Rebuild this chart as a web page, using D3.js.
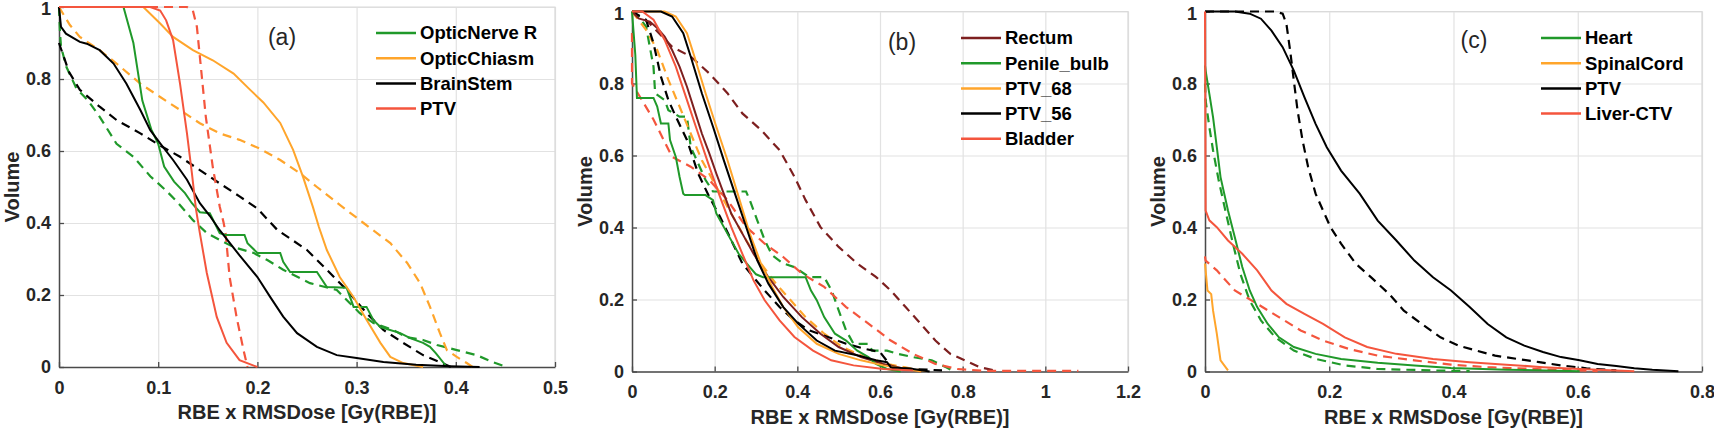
<!DOCTYPE html>
<html>
<head>
<meta charset="utf-8">
<script src="https://cdn.jsdelivr.net/npm/d3@7"></script>
<style>
  body { margin: 0; background: #fff; }
  svg { display: block; font-family: "Liberation Sans", Arial, sans-serif; }
</style>
</head>
<body>
<svg id="fig" width="1714" height="431"></svg>
<script>
// ---- data : [dose, volume] pairs ----
// (a) head case
const a_nerve = [[0,1],[0.065,1],[0.075,0.9],[0.084,0.74],[0.093,0.66],[0.1,0.62],[0.106,0.557],[0.116,0.515],[0.127,0.483],[0.134,0.455],[0.142,0.43],[0.152,0.427],[0.162,0.372],[0.168,0.367],[0.187,0.367],[0.19,0.344],[0.2,0.317],[0.223,0.317],[0.226,0.292],[0.233,0.264],[0.26,0.264],[0.27,0.222],[0.29,0.22],[0.297,0.167],[0.31,0.167],[0.317,0.13],[0.324,0.111],[0.344,0.094],[0.354,0.08],[0.367,0.067],[0.374,0.056],[0.38,0.038],[0.391,0]];
const a_nerve_rms = [[0,1],[0.001,0.93],[0.002,0.89],[0.0074,0.834],[0.0175,0.774],[0.029,0.741],[0.041,0.695],[0.058,0.62],[0.075,0.584],[0.092,0.53],[0.108,0.49],[0.12,0.456],[0.135,0.408],[0.149,0.372],[0.162,0.353],[0.176,0.333],[0.196,0.317],[0.21,0.297],[0.226,0.27],[0.253,0.233],[0.28,0.214],[0.293,0.178],[0.303,0.15],[0.317,0.122],[0.337,0.103],[0.35,0.083],[0.367,0.075],[0.381,0.061],[0.401,0.047],[0.421,0.033],[0.437,0.014],[0.448,0.003]];
const a_chiasm = [[0,1],[0.085,1],[0.102,0.954],[0.115,0.917],[0.135,0.88],[0.155,0.852],[0.176,0.815],[0.193,0.769],[0.206,0.735],[0.223,0.678],[0.236,0.603],[0.246,0.528],[0.256,0.444],[0.262,0.389],[0.27,0.325],[0.283,0.25],[0.297,0.194],[0.31,0.131],[0.324,0.067],[0.334,0.028],[0.347,0.011],[0.367,0]];
const a_chiasm_rms = [[0,1],[0.011,0.95],[0.021,0.917],[0.041,0.88],[0.058,0.843],[0.082,0.787],[0.102,0.75],[0.122,0.714],[0.142,0.677],[0.162,0.649],[0.182,0.631],[0.202,0.607],[0.223,0.575],[0.243,0.538],[0.26,0.5],[0.286,0.444],[0.307,0.4],[0.334,0.344],[0.351,0.289],[0.364,0.233],[0.374,0.167],[0.384,0.094],[0.391,0.047],[0.401,0.028],[0.411,0.011],[0.417,0]];
const a_brain = [[0,1],[0.002,0.945],[0.007,0.926],[0.021,0.903],[0.028,0.898],[0.041,0.88],[0.055,0.843],[0.068,0.787],[0.082,0.714],[0.092,0.658],[0.102,0.621],[0.115,0.575],[0.129,0.52],[0.142,0.455],[0.152,0.42],[0.162,0.38],[0.182,0.31],[0.2,0.25],[0.213,0.194],[0.226,0.14],[0.24,0.094],[0.26,0.056],[0.28,0.033],[0.3,0.025],[0.327,0.014],[0.36,0.006],[0.394,0.002],[0.424,0]];
const a_brain_rms = [[0,0.9],[0.01,0.82],[0.021,0.77],[0.041,0.723],[0.058,0.686],[0.082,0.649],[0.102,0.615],[0.122,0.584],[0.142,0.547],[0.162,0.51],[0.182,0.474],[0.2,0.44],[0.22,0.381],[0.25,0.325],[0.27,0.27],[0.29,0.214],[0.31,0.15],[0.327,0.103],[0.347,0.067],[0.367,0.033],[0.387,0.01],[0.395,0]];
const a_ptv = [[0,1],[0.092,1],[0.102,0.99],[0.108,0.963],[0.115,0.908],[0.122,0.787],[0.129,0.649],[0.134,0.538],[0.138,0.44],[0.142,0.372],[0.149,0.261],[0.159,0.139],[0.169,0.067],[0.182,0.019],[0.2,0]];
const a_ptv_rms = [[0,1],[0.129,1],[0.135,0.99],[0.139,0.945],[0.143,0.834],[0.148,0.695],[0.155,0.556],[0.162,0.446],[0.166,0.4],[0.168,0.37],[0.172,0.25],[0.179,0.139],[0.186,0.047],[0.19,0]];

// (b) prostate case
const b_rectum = [[0,1],[0.016,0.981],[0.043,0.972],[0.061,0.954],[0.079,0.93],[0.097,0.893],[0.115,0.847],[0.133,0.791],[0.151,0.726],[0.169,0.661],[0.187,0.606],[0.204,0.55],[0.222,0.494],[0.24,0.439],[0.267,0.383],[0.294,0.327],[0.33,0.262],[0.366,0.207],[0.411,0.151],[0.456,0.105],[0.5,0.068],[0.554,0.04],[0.608,0.021],[0.662,0.007],[0.7,0]];
const b_rectum_rms = [[0,1],[0.04,0.97],[0.097,0.902],[0.142,0.875],[0.187,0.828],[0.231,0.773],[0.267,0.717],[0.312,0.671],[0.357,0.615],[0.393,0.541],[0.42,0.476],[0.456,0.401],[0.5,0.346],[0.545,0.3],[0.59,0.263],[0.626,0.225],[0.662,0.179],[0.698,0.133],[0.734,0.086],[0.77,0.049],[0.805,0.031],[0.841,0.012],[0.877,0.003]];
const b_penile = [[0,1],[0.008,0.88],[0.012,0.76],[0.052,0.76],[0.061,0.736],[0.07,0.689],[0.088,0.689],[0.092,0.643],[0.106,0.596],[0.115,0.541],[0.124,0.494],[0.128,0.49],[0.178,0.49],[0.196,0.476],[0.204,0.439],[0.231,0.383],[0.258,0.327],[0.285,0.29],[0.3,0.27],[0.317,0.262],[0.42,0.262],[0.433,0.225],[0.447,0.198],[0.465,0.151],[0.491,0.105],[0.518,0.086],[0.545,0.058],[0.572,0.04],[0.59,0.021],[0.617,0.007],[0.65,0]];
const b_penile_rms = [[0,1],[0.016,0.986],[0.034,0.958],[0.052,0.847],[0.056,0.773],[0.079,0.754],[0.088,0.726],[0.115,0.708],[0.133,0.708],[0.142,0.624],[0.16,0.578],[0.178,0.532],[0.196,0.5],[0.276,0.5],[0.285,0.476],[0.303,0.42],[0.321,0.365],[0.339,0.323],[0.366,0.3],[0.393,0.29],[0.429,0.262],[0.465,0.262],[0.483,0.225],[0.5,0.17],[0.518,0.114],[0.536,0.077],[0.572,0.077],[0.581,0.058],[0.617,0.058],[0.644,0.049],[0.68,0.04],[0.725,0.031],[0.76,0.012],[0.78,0]];
const b_ptv68 = [[0,1],[0.079,1],[0.106,0.986],[0.133,0.94],[0.151,0.875],[0.178,0.773],[0.204,0.68],[0.231,0.587],[0.258,0.485],[0.285,0.383],[0.312,0.3],[0.339,0.235],[0.366,0.179],[0.402,0.123],[0.447,0.077],[0.5,0.049],[0.554,0.031],[0.608,0.017],[0.662,0.007],[0.7,0]];
const b_ptv68_rms = [[0,1],[0.034,0.949],[0.061,0.893],[0.088,0.81],[0.115,0.736],[0.142,0.661],[0.169,0.587],[0.204,0.513],[0.24,0.439],[0.276,0.365],[0.312,0.3],[0.348,0.244],[0.384,0.198],[0.42,0.151],[0.465,0.105],[0.509,0.068],[0.563,0.04],[0.617,0.021],[0.68,0.007],[0.72,0]];
const b_ptv56 = [[0,1],[0.07,1],[0.097,0.986],[0.124,0.94],[0.142,0.875],[0.169,0.773],[0.196,0.68],[0.222,0.587],[0.249,0.494],[0.276,0.402],[0.303,0.309],[0.33,0.244],[0.366,0.179],[0.402,0.133],[0.447,0.086],[0.491,0.058],[0.545,0.045],[0.59,0.031],[0.617,0.026],[0.626,0.012],[0.68,0.007],[0.72,0]];
const b_ptv56_rms = [[0,1],[0.034,0.977],[0.052,0.912],[0.07,0.819],[0.088,0.754],[0.106,0.708],[0.133,0.643],[0.16,0.55],[0.187,0.485],[0.213,0.43],[0.24,0.365],[0.267,0.3],[0.294,0.262],[0.321,0.225],[0.357,0.179],[0.393,0.142],[0.429,0.114],[0.474,0.096],[0.518,0.077],[0.563,0.063],[0.6,0.054],[0.63,0.01],[0.75,0.003]];
const b_bladder = [[0,1],[0.025,1],[0.052,0.977],[0.079,0.921],[0.106,0.847],[0.133,0.754],[0.16,0.661],[0.187,0.569],[0.213,0.485],[0.24,0.402],[0.267,0.327],[0.294,0.253],[0.321,0.198],[0.357,0.142],[0.393,0.096],[0.438,0.058],[0.482,0.031],[0.536,0.017],[0.608,0.007],[0.68,0.003]];
const b_bladder_rms = [[0,0.94],[0,0.8],[0.052,0.7],[0.097,0.596],[0.142,0.569],[0.187,0.532],[0.231,0.476],[0.276,0.402],[0.321,0.355],[0.366,0.318],[0.411,0.272],[0.465,0.235],[0.518,0.179],[0.572,0.133],[0.626,0.086],[0.68,0.049],[0.734,0.021],[0.787,0.007],[0.85,0.002],[1.08,0.002]];

// (c) liver case
const c_heart = [[0,0.85],[0.001,0.836],[0.007,0.771],[0.013,0.706],[0.019,0.623],[0.025,0.54],[0.037,0.447],[0.048,0.373],[0.06,0.29],[0.072,0.225],[0.084,0.179],[0.101,0.132],[0.119,0.095],[0.143,0.068],[0.178,0.049],[0.219,0.035],[0.278,0.024],[0.337,0.017],[0.396,0.01],[0.485,0.005],[0.603,0.001]];
const c_heart_rms = [[0,0.8],[0.001,0.753],[0.007,0.679],[0.013,0.614],[0.022,0.531],[0.034,0.438],[0.045,0.355],[0.057,0.271],[0.072,0.197],[0.09,0.142],[0.113,0.095],[0.143,0.058],[0.178,0.035],[0.225,0.017],[0.278,0.007],[0.367,0.003],[0.426,0.001]];
const c_cord = [[0,0.3],[0.004,0.225],[0.01,0.215],[0.013,0.169],[0.019,0.105],[0.025,0.031],[0.037,0.003]];
const c_ptv = [[0,1],[0.048,1],[0.072,0.994],[0.09,0.98],[0.107,0.947],[0.125,0.901],[0.143,0.836],[0.16,0.762],[0.178,0.688],[0.196,0.623],[0.219,0.558],[0.249,0.494],[0.278,0.419],[0.308,0.364],[0.337,0.308],[0.367,0.262],[0.396,0.225],[0.426,0.179],[0.455,0.132],[0.485,0.095],[0.514,0.072],[0.544,0.054],[0.573,0.04],[0.603,0.031],[0.632,0.021],[0.662,0.015],[0.691,0.009],[0.72,0.005],[0.762,0.001]];
const c_ptv_rms = [[0,1],[0.113,1],[0.125,0.994],[0.131,0.966],[0.137,0.892],[0.143,0.808],[0.149,0.725],[0.157,0.642],[0.166,0.568],[0.178,0.494],[0.19,0.447],[0.202,0.401],[0.219,0.355],[0.243,0.299],[0.267,0.262],[0.296,0.216],[0.32,0.169],[0.349,0.132],[0.379,0.095],[0.408,0.072],[0.437,0.058],[0.467,0.044],[0.502,0.035],[0.538,0.026],[0.573,0.017],[0.614,0.009],[0.662,0.003]];
const c_liver = [[0,1],[0.001,0.447],[0.007,0.42],[0.019,0.401],[0.037,0.364],[0.06,0.327],[0.084,0.281],[0.107,0.225],[0.131,0.188],[0.16,0.16],[0.19,0.132],[0.225,0.095],[0.261,0.068],[0.308,0.049],[0.367,0.035],[0.426,0.026],[0.485,0.019],[0.544,0.012],[0.603,0.007],[0.691,0.001]];
const c_liver_rms = [[0,0.32],[0.001,0.308],[0.019,0.281],[0.048,0.225],[0.084,0.188],[0.119,0.151],[0.154,0.114],[0.19,0.086],[0.231,0.063],[0.278,0.044],[0.337,0.031],[0.396,0.019],[0.455,0.012],[0.544,0.006],[0.632,0.001]];

// tick values
const a_xticks = [0, 0.1, 0.2, 0.3, 0.4, 0.5];
const b_xticks = [0, 0.2, 0.4, 0.6, 0.8, 1, 1.2];
const c_xticks = [0, 0.2, 0.4, 0.6, 0.8];
const yticks = [0, 0.2, 0.4, 0.6, 0.8, 1];

const green = "#20992a", orange = "#ffa52b", red = "#f4553d", black = "#000000", maroon = "#7d1f1f";

const panels = [
  { tag: "(a)", left: 59, right: 555, top: 7, bottom: 367, xmax: 0.5, xticks: a_xticks,
    tagPos: [282, 37], legX: 376, legY: 33,
    series: [
      { name: "OpticNerve R", color: green, solid: a_nerve, dash: a_nerve_rms },
      { name: "OpticChiasm", color: orange, solid: a_chiasm, dash: a_chiasm_rms },
      { name: "BrainStem", color: black, solid: a_brain, dash: a_brain_rms },
      { name: "PTV", color: red, solid: a_ptv, dash: a_ptv_rms }
    ] },
  { tag: "(b)", left: 632, right: 1128, top: 11.5, bottom: 371.5, xmax: 1.2, xticks: b_xticks,
    tagPos: [902, 42], legX: 961, legY: 38,
    series: [
      { name: "Rectum", color: maroon, solid: b_rectum, dash: b_rectum_rms },
      { name: "Penile_bulb", color: green, solid: b_penile, dash: b_penile_rms },
      { name: "PTV_68", color: orange, solid: b_ptv68, dash: b_ptv68_rms },
      { name: "PTV_56", color: black, solid: b_ptv56, dash: b_ptv56_rms },
      { name: "Bladder", color: red, solid: b_bladder, dash: b_bladder_rms }
    ] },
  { tag: "(c)", left: 1205, right: 1702, top: 11.5, bottom: 371.5, xmax: 0.8, xticks: c_xticks,
    tagPos: [1474, 40], legX: 1541, legY: 38,
    series: [
      { name: "Heart", color: green, solid: c_heart, dash: c_heart_rms },
      { name: "SpinalCord", color: orange, solid: c_cord, dash: null },
      { name: "PTV", color: black, solid: c_ptv, dash: c_ptv_rms },
      { name: "Liver-CTV", color: red, solid: c_liver, dash: c_liver_rms }
    ] }
];

const svg = d3.select("#fig");
const fmt = d => d === 0 ? "0" : String(+d.toFixed(1));

panels.forEach(p => drawPanel(p));

function drawPanel(p) {
  let g = svg.append("g");
  let x = d3.scaleLinear().domain([0, p.xmax]).range([p.left, p.right]);
  let y = d3.scaleLinear().domain([0, 1]).range([p.bottom, p.top]);

  // grid
  g.append("g")
    .attr("transform", "translate(0," + p.bottom + ")")
    .call(d3.axisBottom(x).tickValues(p.xticks).tickSize(-(p.bottom - p.top)).tickFormat(""))
    .call(s => s.select(".domain").remove())
    .selectAll("line").attr("stroke", "#e2e2e2").attr("stroke-width", 1.2);
  g.append("g")
    .attr("transform", "translate(" + p.left + ",0)")
    .call(d3.axisLeft(y).tickValues(yticks).tickSize(-(p.right - p.left)).tickFormat(""))
    .call(s => s.select(".domain").remove())
    .selectAll("line").attr("stroke", "#e2e2e2").attr("stroke-width", 1.2);

  // light box top / right
  g.append("path")
    .attr("d", "M" + p.left + "," + p.top + "H" + p.right + "V" + p.bottom)
    .attr("fill", "none").attr("stroke", "#dadada").attr("stroke-width", 1.2);

  // axes
  let xa = g.append("g")
    .attr("transform", "translate(0," + p.bottom + ")")
    .call(d3.axisBottom(x).tickValues(p.xticks).tickSizeInner(-5).tickSizeOuter(0).tickPadding(14).tickFormat(fmt));
  let ya = g.append("g")
    .attr("transform", "translate(" + p.left + ",0)")
    .call(d3.axisLeft(y).tickValues(yticks).tickSizeInner(-5).tickSizeOuter(0).tickPadding(8).tickFormat(fmt));
  [xa, ya].forEach(a => {
    a.select(".domain").attr("stroke", "#4a4a4a").attr("stroke-width", 1.5);
    a.selectAll("line").attr("stroke", "#4a4a4a").attr("stroke-width", 1.3);
    a.selectAll("text").attr("fill", "#262626")
      .style("font-size", "18px").style("font-weight", "bold")
      .style("font-family", "'Liberation Sans', Arial, sans-serif");
  });
  // keep the top "1" label inside the picture
  ya.selectAll(".tick").filter(d => d === 1).select("text").attr("dy", "0.42em");

  // curves
  let line = d3.line().x(d => x(d[0])).y(d => y(d[1]));
  p.series.forEach(s => {
    if (s.dash) {
      g.append("path").datum(s.dash)
        .attr("d", line).attr("fill", "none")
        .attr("stroke", s.color).attr("stroke-width", 2.2)
        .attr("stroke-dasharray", "9,6");
    }
  });
  p.series.forEach(s => {
    g.append("path").datum(s.solid)
      .attr("d", line).attr("fill", "none")
      .attr("stroke", s.color).attr("stroke-width", 2);
  });

  // axis titles
  g.append("text")
    .attr("x", (p.left + p.right) / 2).attr("y", p.bottom + 52)
    .attr("text-anchor", "middle")
    .style("font-size", "20px").style("font-weight", "bold").attr("fill", "#262626")
    .text("RBE x RMSDose [Gy(RBE)]");
  g.append("text")
    .attr("transform", "translate(" + (p.left - 47) + "," + ((p.top + p.bottom) / 2) + ") rotate(-90)")
    .attr("text-anchor", "middle").attr("dy", "0.35em")
    .style("font-size", "20px").style("font-weight", "bold").attr("fill", "#262626")
    .text("Volume");

  // panel tag
  g.append("text")
    .attr("x", p.tagPos[0]).attr("y", p.tagPos[1])
    .attr("text-anchor", "middle").attr("dy", "0.35em")
    .style("font-size", "23px").attr("fill", "#262626")
    .text(p.tag);

  // legend
  let legend = g.selectAll(".legend")
    .data(p.series)
    .enter().append("g")
    .attr("class", "legend")
    .attr("transform", (d, i) => "translate(" + p.legX + "," + (p.legY + i * 25.2) + ")");
  legend.append("line")
    .attr("x1", 0).attr("x2", 40)
    .attr("stroke", d => d.color).attr("stroke-width", 2.5);
  legend.append("text")
    .attr("x", 44).attr("dy", "0.35em")
    .style("font-size", "18.5px").style("font-weight", "bold").attr("fill", "#000")
    .text(d => d.name);
}
</script>
</body>
</html>
